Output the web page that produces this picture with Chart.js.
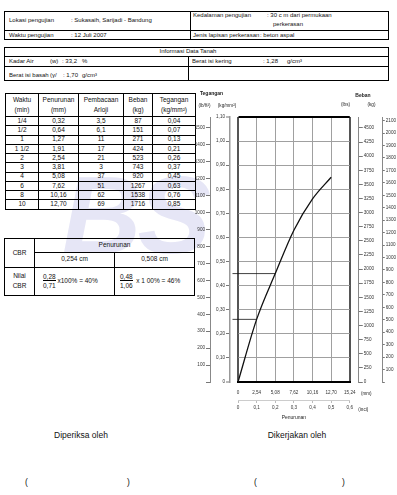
<!DOCTYPE html>
<html>
<head>
<meta charset="utf-8">
<script src="https://cdn.jsdelivr.net/npm/chart.js@4"></script>
<style>
  body { margin: 0; background: #fff; font-family: "Liberation Sans", Arial, sans-serif; color: #111; }
  #page { position: relative; width: 397px; height: 495px; overflow: hidden; }
  .box { position: absolute; border: 1px solid #000; box-sizing: border-box; }
  .hl, .vl { position: absolute; background: #000; }
  .t { position: absolute; white-space: nowrap; line-height: 7px; font-size: 6px; }
  #wm { position: absolute; left: 62px; top: 160px; font-size: 110px; line-height: 110px; font-weight: bold; font-style: italic; color: #e6e6f6; z-index: 0; letter-spacing: -4px; }
  table { position: absolute; border-collapse: collapse; table-layout: fixed; z-index: 1; }
  td { border: 1px solid #000; padding: 0; text-align: center; font-size: 6.5px; line-height: 1; }
  #data thead td { line-height: 10px; }
  .frac { display: inline-block; vertical-align: middle; text-align: left; line-height: 9px; }
  .num { display: block; border-bottom: 0.8px solid #000; line-height: 7px; }
  .big { position: absolute; font-size: 8.5px; white-space: nowrap; line-height: 10px; }
  #c { position: absolute; left: 190px; top: 86px; z-index: 2; }
</style>
</head>
<body>
<div id="page">
  <div id="wm">BS</div>

  <!-- identitas pengujian -->
  <div class="box" style="left:4px;top:11px;width:385px;height:29px;"></div>
  <div class="hl" style="left:4px;top:30px;width:385px;height:1px;"></div>
  <div class="vl" style="left:190px;top:11px;width:1px;height:29px;"></div>
  <span class="t" style="left:9px;top:17px;">Lokasi pengujian</span>
  <span class="t" style="left:71px;top:17px;">: Sukasaih, Sarijadi - Bandung</span>
  <span class="t" style="left:9px;top:32px;">Waktu pengujian</span>
  <span class="t" style="left:71px;top:32px;">: 12 Juli 2007</span>
  <span class="t" style="left:193px;top:12px;">Kedalaman pengujian</span>
  <span class="t" style="left:267px;top:12px;">: 30 c m dari permukaan</span>
  <span class="t" style="left:273px;top:21px;">perkerasan</span>
  <span class="t" style="left:193px;top:32px;">Jenis lapisan perkerasan</span>
  <span class="t" style="left:260px;top:32px;">: beton aspal</span>

  <!-- informasi data tanah -->
  <div class="box" style="left:4px;top:47px;width:385px;height:34px;"></div>
  <div class="hl" style="left:4px;top:56px;width:385px;height:1px;"></div>
  <div class="hl" style="left:4px;top:66px;width:385px;height:1px;"></div>
  <div class="vl" style="left:188px;top:56px;width:1px;height:25px;"></div>
  <span class="t" style="left:188px;top:48px;transform:translateX(-50%);">Informasi Data Tanah</span>
  <span class="t" style="left:9px;top:58px;">Kadar Air</span>
  <span class="t" style="left:50px;top:58px;">(w)</span>
  <span class="t" style="left:62px;top:58px;">: 33,2</span>
  <span class="t" style="left:82px;top:58px;">%</span>
  <span class="t" style="left:192px;top:58px;">Berat isi kering</span>
  <span class="t" style="left:263px;top:58px;">: 1,28</span>
  <span class="t" style="left:287px;top:58px;">g/cm³</span>
  <span class="t" style="left:9px;top:72px;">Berat isi basah</span>
  <span class="t" style="left:50px;top:72px;">(γ/</span>
  <span class="t" style="left:63px;top:72px;">: 1,70</span>
  <span class="t" style="left:82px;top:72px;">g/cm³</span>

  <table id="data" style="left:5px;top:93px;width:190px;">
    <colgroup><col style="width:33px"><col style="width:40px"><col style="width:45px"><col style="width:29px"><col style="width:43px"></colgroup>
    <thead>
      <tr style="height:23px;">
        <td>Waktu<br>(min)</td><td>Penurunan<br>(mm)</td><td>Pembacaan<br>Arloji</td><td>Beban<br>(kg)</td><td>Tegangan<br>(kg/mm²)</td>
      </tr>
    </thead>
    <tbody id="rows"></tbody>
  </table>

  <table id="cbr" style="left:4px;top:238px;width:190px;">
    <colgroup><col style="width:30px"><col style="width:80px"><col style="width:80px"></colgroup>
    <tr style="height:13.5px;"><td rowspan="2">CBR</td><td colspan="2">Penurunan</td></tr>
    <tr style="height:15px;"><td>0,254 cm</td><td>0,508 cm</td></tr>
    <tr style="height:28.5px;">
      <td style="line-height:10px;">Nilai<br>CBR</td>
      <td style="text-align:left;padding-left:8px;"><span class="frac"><span class="num">0,28</span>0,71</span> x100% = 40%</td>
      <td style="text-align:left;padding-left:5px;"><span class="frac"><span class="num">0,48</span>1,06</span> &nbsp;x 1 00% = 46%</td>
    </tr>
  </table>

  <canvas id="c" width="207" height="342"></canvas>

  <span class="big" style="left:81px;top:430px;transform:translateX(-50%);">Diperiksa oleh</span>
  <span class="big" style="left:297px;top:430px;transform:translateX(-50%);">Dikerjakan oleh</span>
  <span class="big" style="left:25px;top:477px;">(</span>
  <span class="big" style="left:127px;top:477px;">)</span>
  <span class="big" style="left:254px;top:477px;">(</span>
  <span class="big" style="left:342px;top:477px;">)</span>
</div>

<script>
// data pengujian CBR lapangan (tabel)
const waktu = ['1/4', '1/2', '1', '1 1/2', '2', '3', '4', '6', '8', '10'];
const penurunan = [0.32, 0.64, 1.27, 1.91, 2.54, 3.81, 5.08, 7.62, 10.16, 12.70];
const pembacaan = [3.5, 6.1, 11, 17, 21, 3, 37, 51, 62, 69];
const beban = [87, 151, 271, 424, 523, 743, 920, 1267, 1538, 1716];
const tegangan = [0.04, 0.07, 0.13, 0.21, 0.26, 0.37, 0.45, 0.63, 0.76, 0.85];

// kurva yang digambar pada grafik
const kurvaPenurunan = [0, 2.54, 5.08, 7.62, 10.16, 12.70];
const kurvaTegangan = [0, 0.26, 0.45, 0.63, 0.76, 0.85];

// tick labels
const mmTicks = [0, 2.54, 5.08, 7.62, 10.16, 12.70, 15.24];
const inchTicks = [0, 0.1, 0.2, 0.3, 0.4, 0.5, 0.6];
const teganganTicks = [0, 0.1, 0.2, 0.3, 0.4, 0.5, 0.6, 0.7, 0.8, 0.9, 1.0, 1.1];
const psiTicks = [0, 100, 200, 300, 400, 500, 600, 700, 800, 900, 1000, 1100, 1200, 1300, 1400, 1500];
const lbsTicks = [0, 250, 500, 750, 1000, 1250, 1500, 1750, 2000, 2250, 2500, 2750, 3000, 3250, 3500, 3750, 4000, 4250, 4500];
const kgTicks = [0, 100, 200, 300, 400, 500, 600, 700, 800, 900, 1000, 1100, 1200, 1300, 1400, 1500, 1600, 1700, 1800, 1900, 2000, 2100];
const arrowAt = [2.54, 5.08];   // penurunan standar 0,1" dan 0,2"

// piston 3 in2
const AREA_MM2 = 1935.48;
const PSI_PER_KGMM2 = 1422.33;
const LBS_PER_KG = 2.20462;
const Y_MAX = 1.1;

const fmt = (v, d) => v.toFixed(d).replace('.', ',');

// isi tabel
const tbody = document.getElementById('rows');
waktu.forEach((w, i) => {
    const tr = document.createElement('tr');
    tr.style.height = '9.27px';
    tr.innerHTML = `<td>${w}</td><td>${fmt(penurunan[i], 2)}</td><td>${String(pembacaan[i]).replace('.', ',')}</td><td>${beban[i]}</td><td>${fmt(tegangan[i], 2)}</td>`;
    tbody.appendChild(tr);
});

Chart.defaults.font.family = '"Liberation Sans", Arial, sans-serif';
Chart.defaults.color = '#333';

const setTicks = list => scale => { scale.ticks = list.map(v => ({ value: v })); };
const tickFont = { size: 4.6 };

const curve = kurvaPenurunan.map((p, i) => ({ x: p, y: kurvaTegangan[i] }));

const arrows = arrowAt.map(p => {
    const y = kurvaTegangan[kurvaPenurunan.indexOf(p)];
    return {
        data: [{ x: p, y: y }, { x: -0.75, y: y }],
        borderColor: '#111',
        borderWidth: 0.8,
        pointRadius: [0, 3],
        pointStyle: 'triangle',
        rotation: 270,
        pointBackgroundColor: '#111',
        pointBorderColor: '#111',
        pointBorderWidth: 0,
        clip: false,
        yAxisID: 'y'
    };
});

const axisTitles = {
    id: 'axisTitles',
    afterDraw(chart) {
        const { ctx, chartArea } = chart;
        ctx.save();
        ctx.fillStyle = '#222';
        ctx.textAlign = 'center';
        ctx.textBaseline = 'middle';
        ctx.font = 'bold 5px "Liberation Sans", Arial';
        ctx.fillText('Tegangan', 21.5, 8);
        ctx.fillText('Beban', 173, 10);
        ctx.font = '4.6px "Liberation Sans", Arial';
        ctx.fillText('(lb/ft²)', 14.5, 19.3);
        ctx.fillText('(kg/mm²)', 37, 19.3);
        ctx.fillText('(lbs)', 155.5, 19);
        ctx.fillText('(kg)', 181.5, 19);
        ctx.fillText('(mm)', chartArea.right + 16.5, chartArea.bottom + 11.3);
        ctx.fillText('(inci)', chartArea.right + 13.5, chartArea.bottom + 28);
        ctx.restore();
    }
};

const edgeY = c => c.tick && (c.tick.value === 0 || Math.abs(c.tick.value - Y_MAX) < 1e-9);
const edgeX = c => c.tick && (c.tick.value === 0 || Math.abs(c.tick.value - 15.24) < 1e-9);

new Chart(document.getElementById('c'), {
    type: 'line',
    data: {
        datasets: [{
            data: curve,
            borderColor: '#111',
            borderWidth: 1.3,
            pointRadius: 0,
            cubicInterpolationMode: 'monotone',
            yAxisID: 'y'
        }].concat(arrows)
    },
    options: {
        responsive: false,
        animation: false,
        devicePixelRatio: 1,
        layout: { padding: { top: 31, bottom: 7, left: 0, right: 0 } },
        plugins: { legend: { display: false }, tooltip: { enabled: false } },
        scales: {
            x: {
                type: 'linear', position: 'bottom', weight: 0, min: 0, max: 15.24,
                afterBuildTicks: setTicks(mmTicks),
                afterFit: s => { s.height = 18; },
                grid: {
                    color: c => edgeX(c) ? '#555' : '#a0a0a0',
                    lineWidth: c => edgeX(c) ? 2 : 1,
                    drawTicks: false
                },
                border: { display: true, color: '#000', width: 2 },
                ticks: { padding: 8, font: tickFont, autoSkip: false, maxRotation: 0,
                    callback: v => v === 0 ? '0' : fmt(v, 2) }
            },
            xin: {
                type: 'linear', position: 'bottom', weight: 1, min: 0, max: 0.6,
                afterBuildTicks: setTicks(inchTicks),
                afterFit: s => { s.height = 21; },
                grid: { drawOnChartArea: false, tickLength: 3, color: '#bbb' },
                border: { display: true, color: '#ccc', width: 1 },
                ticks: { padding: 2, font: tickFont, autoSkip: false, maxRotation: 0,
                    callback: v => v === 0 ? '0' : fmt(v, 1) },
                title: { display: true, text: 'Penurunan', font: { size: 5 }, color: '#222', padding: { top: 1, bottom: 0 } }
            },
            gapL: {
                type: 'linear', position: 'left', weight: 0, min: 0, max: 1,
                grid: { display: false }, border: { display: false }, ticks: { display: false },
                afterFit: s => { s.width = 8; }
            },
            y: {
                type: 'linear', position: 'left', weight: 1, min: 0, max: Y_MAX,
                afterBuildTicks: setTicks(teganganTicks),
                afterFit: s => { s.width = 20; },
                grid: {
                    color: c => edgeY(c) ? '#000' : '#a0a0a0',
                    lineWidth: c => edgeY(c) ? 2 : 1,
                    tickLength: 4, tickColor: '#777', tickWidth: 1
                },
                border: { display: true, color: '#999', width: 1.5 },
                ticks: { padding: 1, font: tickFont, autoSkip: false,
                    callback: v => v === 0 ? '0' : fmt(v, 2) }
            },
            ypsi: {
                type: 'linear', position: 'left', weight: 2, min: 0, max: Y_MAX * PSI_PER_KGMM2,
                afterBuildTicks: setTicks(psiTicks),
                afterFit: s => { s.width = 20; },
                grid: { drawOnChartArea: false, tickLength: 4, color: '#777' },
                border: { display: true, color: '#888', width: 1 },
                ticks: { padding: 1, font: tickFont, autoSkip: false,
                    callback: v => v === 0 ? '' : String(v) }
            },
            gapR: {
                type: 'linear', position: 'right', weight: 0, min: 0, max: 1,
                grid: { display: false }, border: { display: false }, ticks: { display: false },
                afterFit: s => { s.width = 9; }
            },
            ylbs: {
                type: 'linear', position: 'right', weight: 1, min: 0, max: Y_MAX * AREA_MM2 * LBS_PER_KG,
                afterBuildTicks: setTicks(lbsTicks),
                afterFit: s => { s.width = 24; },
                grid: { drawOnChartArea: false, tickLength: 4, color: '#777' },
                border: { display: true, color: '#888', width: 1 },
                ticks: { padding: 1, font: tickFont, autoSkip: false,
                    callback: v => String(v) }
            },
            ykg: {
                type: 'linear', position: 'right', weight: 2, min: 0, max: Y_MAX * AREA_MM2,
                afterBuildTicks: setTicks(kgTicks),
                grid: { drawOnChartArea: false, tickLength: 2, color: '#777' },
                border: { display: true, color: '#888', width: 1 },
                ticks: { padding: 1, font: tickFont, autoSkip: false,
                    callback: v => v === 0 ? '' : String(v) }
            }
        }
    },
    plugins: [axisTitles]
});
</script>
</body>
</html>
